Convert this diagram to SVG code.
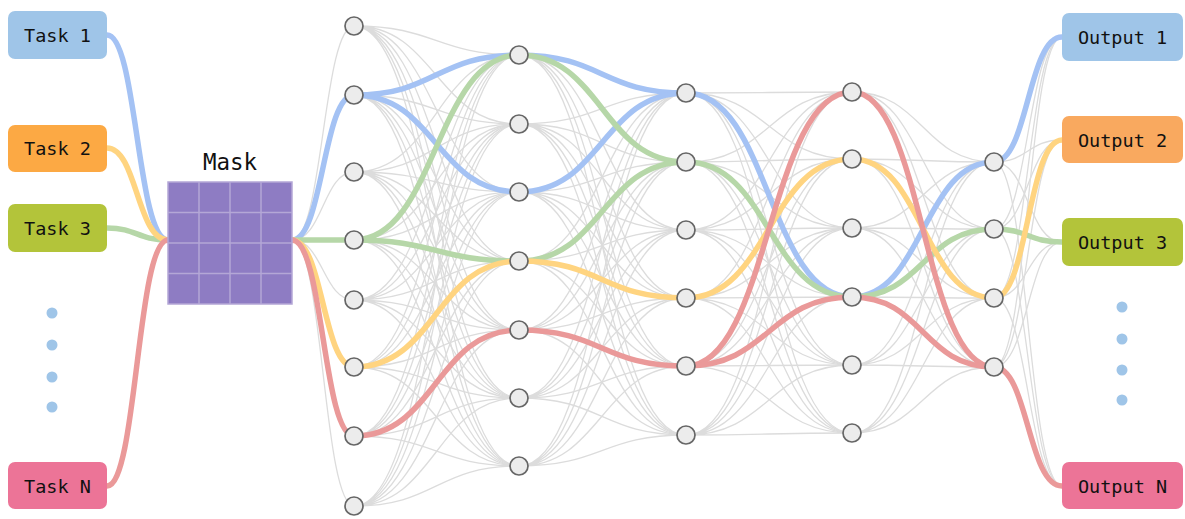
<svg xmlns="http://www.w3.org/2000/svg" width="1185" height="519" viewBox="0 0 1185 519">
<style>
.g{fill:none;stroke:#dcdcdc;stroke-width:1.3}
.c{fill:none;stroke-width:5.5;stroke-linecap:round}
.b{stroke:#a4c2f4}.o{stroke:#ffd480}.gr{stroke:#b6d7a8}.r{stroke:#ea9999}
.n{fill:#ececec;stroke:#666;stroke-width:1.7}
.lbl{font-family:"DejaVu Sans Mono","Liberation Mono",monospace;font-size:18.5px;fill:#111;text-anchor:middle}
.dot{fill:#9fc5e8}
</style>
<rect width="1185" height="519" fill="#fff"/>
<g id="connectors">
<path class="g" d="M292 240C323 240 323 26 354 26M292 240C323 240 323 95 354 95M292 240C323 240 323 172 354 172M292 240C323 240 323 240 354 240M292 240C323 240 323 300 354 300M292 240C323 240 323 367 354 367M292 240C323 240 323 436 354 436M292 240C323 240 323 506 354 506"/>
<path class="g" d="M354 26C436 26 436 55 519 55M354 26C436 26 436 124 519 124M354 26C436 26 436 192 519 192M354 26C436 26 436 261 519 261M354 26C436 26 436 330 519 330M354 26C436 26 436 398 519 398M354 26C436 26 436 466 519 466"/>
<path class="g" d="M354 95C436 95 436 55 519 55M354 95C436 95 436 124 519 124M354 95C436 95 436 192 519 192M354 95C436 95 436 261 519 261M354 95C436 95 436 330 519 330M354 95C436 95 436 398 519 398M354 95C436 95 436 466 519 466"/>
<path class="g" d="M354 172C436 172 436 55 519 55M354 172C436 172 436 124 519 124M354 172C436 172 436 192 519 192M354 172C436 172 436 261 519 261M354 172C436 172 436 330 519 330M354 172C436 172 436 398 519 398M354 172C436 172 436 466 519 466"/>
<path class="g" d="M354 240C436 240 436 55 519 55M354 240C436 240 436 124 519 124M354 240C436 240 436 192 519 192M354 240C436 240 436 261 519 261M354 240C436 240 436 330 519 330M354 240C436 240 436 398 519 398M354 240C436 240 436 466 519 466"/>
<path class="g" d="M354 300C436 300 436 55 519 55M354 300C436 300 436 124 519 124M354 300C436 300 436 192 519 192M354 300C436 300 436 261 519 261M354 300C436 300 436 330 519 330M354 300C436 300 436 398 519 398M354 300C436 300 436 466 519 466"/>
<path class="g" d="M354 367C436 367 436 55 519 55M354 367C436 367 436 124 519 124M354 367C436 367 436 192 519 192M354 367C436 367 436 261 519 261M354 367C436 367 436 330 519 330M354 367C436 367 436 398 519 398M354 367C436 367 436 466 519 466"/>
<path class="g" d="M354 436C436 436 436 55 519 55M354 436C436 436 436 124 519 124M354 436C436 436 436 192 519 192M354 436C436 436 436 261 519 261M354 436C436 436 436 330 519 330M354 436C436 436 436 398 519 398M354 436C436 436 436 466 519 466"/>
<path class="g" d="M354 506C436 506 436 55 519 55M354 506C436 506 436 124 519 124M354 506C436 506 436 192 519 192M354 506C436 506 436 261 519 261M354 506C436 506 436 330 519 330M354 506C436 506 436 398 519 398M354 506C436 506 436 466 519 466"/>
<path class="g" d="M519 55C602 55 602 93 686 93M519 55C602 55 602 162 686 162M519 55C602 55 602 230 686 230M519 55C602 55 602 298 686 298M519 55C602 55 602 366 686 366M519 55C602 55 602 435 686 435"/>
<path class="g" d="M519 124C602 124 602 93 686 93M519 124C602 124 602 162 686 162M519 124C602 124 602 230 686 230M519 124C602 124 602 298 686 298M519 124C602 124 602 366 686 366M519 124C602 124 602 435 686 435"/>
<path class="g" d="M519 192C602 192 602 93 686 93M519 192C602 192 602 162 686 162M519 192C602 192 602 230 686 230M519 192C602 192 602 298 686 298M519 192C602 192 602 366 686 366M519 192C602 192 602 435 686 435"/>
<path class="g" d="M519 261C602 261 602 93 686 93M519 261C602 261 602 162 686 162M519 261C602 261 602 230 686 230M519 261C602 261 602 298 686 298M519 261C602 261 602 366 686 366M519 261C602 261 602 435 686 435"/>
<path class="g" d="M519 330C602 330 602 93 686 93M519 330C602 330 602 162 686 162M519 330C602 330 602 230 686 230M519 330C602 330 602 298 686 298M519 330C602 330 602 366 686 366M519 330C602 330 602 435 686 435"/>
<path class="g" d="M519 398C602 398 602 93 686 93M519 398C602 398 602 162 686 162M519 398C602 398 602 230 686 230M519 398C602 398 602 298 686 298M519 398C602 398 602 366 686 366M519 398C602 398 602 435 686 435"/>
<path class="g" d="M519 466C602 466 602 93 686 93M519 466C602 466 602 162 686 162M519 466C602 466 602 230 686 230M519 466C602 466 602 298 686 298M519 466C602 466 602 366 686 366M519 466C602 466 602 435 686 435"/>
<path class="g" d="M686 93C769 93 769 92 852 92M686 93C769 93 769 159 852 159M686 93C769 93 769 228 852 228M686 93C769 93 769 297 852 297M686 93C769 93 769 365 852 365M686 93C769 93 769 433 852 433"/>
<path class="g" d="M686 162C769 162 769 92 852 92M686 162C769 162 769 159 852 159M686 162C769 162 769 228 852 228M686 162C769 162 769 297 852 297M686 162C769 162 769 365 852 365M686 162C769 162 769 433 852 433"/>
<path class="g" d="M686 230C769 230 769 92 852 92M686 230C769 230 769 159 852 159M686 230C769 230 769 228 852 228M686 230C769 230 769 297 852 297M686 230C769 230 769 365 852 365M686 230C769 230 769 433 852 433"/>
<path class="g" d="M686 298C769 298 769 92 852 92M686 298C769 298 769 159 852 159M686 298C769 298 769 228 852 228M686 298C769 298 769 297 852 297M686 298C769 298 769 365 852 365M686 298C769 298 769 433 852 433"/>
<path class="g" d="M686 366C769 366 769 92 852 92M686 366C769 366 769 159 852 159M686 366C769 366 769 228 852 228M686 366C769 366 769 297 852 297M686 366C769 366 769 365 852 365M686 366C769 366 769 433 852 433"/>
<path class="g" d="M686 435C769 435 769 92 852 92M686 435C769 435 769 159 852 159M686 435C769 435 769 228 852 228M686 435C769 435 769 297 852 297M686 435C769 435 769 365 852 365M686 435C769 435 769 433 852 433"/>
<path class="g" d="M852 92C923 92 923 162 994 162M852 92C923 92 923 229 994 229M852 92C923 92 923 298 994 298M852 92C923 92 923 367 994 367"/>
<path class="g" d="M852 159C923 159 923 162 994 162M852 159C923 159 923 229 994 229M852 159C923 159 923 298 994 298M852 159C923 159 923 367 994 367"/>
<path class="g" d="M852 228C923 228 923 162 994 162M852 228C923 228 923 229 994 229M852 228C923 228 923 298 994 298M852 228C923 228 923 367 994 367"/>
<path class="g" d="M852 297C923 297 923 162 994 162M852 297C923 297 923 229 994 229M852 297C923 297 923 298 994 298M852 297C923 297 923 367 994 367"/>
<path class="g" d="M852 365C923 365 923 162 994 162M852 365C923 365 923 229 994 229M852 365C923 365 923 298 994 298M852 365C923 365 923 367 994 367"/>
<path class="g" d="M852 433C923 433 923 162 994 162M852 433C923 433 923 229 994 229M852 433C923 433 923 298 994 298M852 433C923 433 923 367 994 367"/>
<path class="g" d="M994 162C1028 162 1028 37 1062 37M994 162C1028 162 1028 140 1062 140M994 162C1028 162 1028 242 1062 242M994 162C1028 162 1028 486 1062 486"/>
<path class="g" d="M994 229C1028 229 1028 37 1062 37M994 229C1028 229 1028 140 1062 140M994 229C1028 229 1028 242 1062 242M994 229C1028 229 1028 486 1062 486"/>
<path class="g" d="M994 298C1028 298 1028 37 1062 37M994 298C1028 298 1028 140 1062 140M994 298C1028 298 1028 242 1062 242M994 298C1028 298 1028 486 1062 486"/>
<path class="g" d="M994 367C1028 367 1028 37 1062 37M994 367C1028 367 1028 140 1062 140M994 367C1028 367 1028 242 1062 242M994 367C1028 367 1028 486 1062 486"/>
<!-- task 1 (blue) -->
<path class="c b" d="M107 35C137 35 137 240 168 240"/>
<path class="c b" d="M292 240C323 240 323 95 354 95"/>
<path class="c b" d="M354 95C436 95 436 55 519 55"/>
<path class="c b" d="M354 95C436 95 436 192 519 192"/>
<path class="c b" d="M519 55C602 55 602 93 686 93"/>
<path class="c b" d="M519 192C602 192 602 93 686 93"/>
<path class="c b" d="M686 93C769 93 769 297 852 297"/>
<path class="c b" d="M852 297C923 297 923 162 994 162"/>
<path class="c b" d="M994 162C1028 162 1028 37 1062 37"/>
<!-- task 3 (green) -->
<path class="c gr" d="M107 228C137 228 137 240 168 240"/>
<path class="c gr" d="M292 240C323 240 323 240 354 240"/>
<path class="c gr" d="M354 240C436 240 436 55 519 55"/>
<path class="c gr" d="M354 240C436 240 436 261 519 261"/>
<path class="c gr" d="M519 55C602 55 602 162 686 162"/>
<path class="c gr" d="M519 261C602 261 602 162 686 162"/>
<path class="c gr" d="M686 162C769 162 769 297 852 297"/>
<path class="c gr" d="M852 297C923 297 923 229 994 229"/>
<path class="c gr" d="M994 229C1028 229 1028 242 1062 242"/>
<!-- task 2 (orange) -->
<path class="c o" d="M107 148C137 148 137 240 168 240"/>
<path class="c o" d="M292 240C323 240 323 367 354 367"/>
<path class="c o" d="M354 367C436 367 436 261 519 261"/>
<path class="c o" d="M519 261C602 261 602 298 686 298"/>
<path class="c o" d="M686 298C769 298 769 159 852 159"/>
<path class="c o" d="M852 159C923 159 923 298 994 298"/>
<path class="c o" d="M994 298C1028 298 1028 140 1062 140"/>
<!-- task N (red) -->
<path class="c r" d="M107 486C137 486 137 240 168 240"/>
<path class="c r" d="M292 240C323 240 323 436 354 436"/>
<path class="c r" d="M354 436C436 436 436 330 519 330"/>
<path class="c r" d="M519 330C602 330 602 366 686 366"/>
<path class="c r" d="M686 366C769 366 769 92 852 92"/>
<path class="c r" d="M686 366C769 366 769 297 852 297"/>
<path class="c r" d="M852 92C923 92 923 367 994 367"/>
<path class="c r" d="M852 297C923 297 923 367 994 367"/>
<path class="c r" d="M994 367C1028 367 1028 486 1062 486"/>
</g>
<g id="task1"><rect x="8" y="11" width="99" height="48" rx="7" fill="#9fc5e8"/><text class="lbl" x="57.5" y="42">Task 1</text></g>
<g id="task2"><rect x="8" y="125" width="99" height="47" rx="7" fill="#fca944"/><text class="lbl" x="57.5" y="155">Task 2</text></g>
<g id="task3"><rect x="8" y="204" width="99" height="48" rx="7" fill="#b3c43a"/><text class="lbl" x="57.5" y="235">Task 3</text></g>
<g id="taskN"><rect x="8" y="462" width="99" height="47" rx="7" fill="#ec7497"/><text class="lbl" x="57.5" y="493">Task N</text></g>
<g id="task-dots"><circle class="dot" cx="52" cy="313" r="5.5"/><circle class="dot" cx="52" cy="345" r="5.5"/><circle class="dot" cx="52" cy="377" r="5.5"/><circle class="dot" cx="52" cy="407" r="5.5"/></g>
<g id="mask">
<text x="230" y="170" font-family="DejaVu Sans Mono, Liberation Mono, monospace" font-size="22.5" fill="#111" text-anchor="middle">Mask</text>
<rect x="168" y="182" width="124" height="122" fill="#8e7cc3" stroke="#b4a7d6" stroke-width="1.5"/>
<path d="M199 182V304M230 182V304M261 182V304M168 212.5H292M168 243H292M168 273.5H292" stroke="#b4a7d6" stroke-width="1.5"/>
</g>
<g id="l1-1"><circle class="n" cx="354" cy="26" r="9"/></g>
<g id="l1-2"><circle class="n" cx="354" cy="95" r="9"/></g>
<g id="l1-3"><circle class="n" cx="354" cy="172" r="9"/></g>
<g id="l1-4"><circle class="n" cx="354" cy="240" r="9"/></g>
<g id="l1-5"><circle class="n" cx="354" cy="300" r="9"/></g>
<g id="l1-6"><circle class="n" cx="354" cy="367" r="9"/></g>
<g id="l1-7"><circle class="n" cx="354" cy="436" r="9"/></g>
<g id="l1-8"><circle class="n" cx="354" cy="506" r="9"/></g>
<g id="l2-1"><circle class="n" cx="519" cy="55" r="9"/></g>
<g id="l2-2"><circle class="n" cx="519" cy="124" r="9"/></g>
<g id="l2-3"><circle class="n" cx="519" cy="192" r="9"/></g>
<g id="l2-4"><circle class="n" cx="519" cy="261" r="9"/></g>
<g id="l2-5"><circle class="n" cx="519" cy="330" r="9"/></g>
<g id="l2-6"><circle class="n" cx="519" cy="398" r="9"/></g>
<g id="l2-7"><circle class="n" cx="519" cy="466" r="9"/></g>
<g id="l3-1"><circle class="n" cx="686" cy="93" r="9"/></g>
<g id="l3-2"><circle class="n" cx="686" cy="162" r="9"/></g>
<g id="l3-3"><circle class="n" cx="686" cy="230" r="9"/></g>
<g id="l3-4"><circle class="n" cx="686" cy="298" r="9"/></g>
<g id="l3-5"><circle class="n" cx="686" cy="366" r="9"/></g>
<g id="l3-6"><circle class="n" cx="686" cy="435" r="9"/></g>
<g id="l4-1"><circle class="n" cx="852" cy="92" r="9"/></g>
<g id="l4-2"><circle class="n" cx="852" cy="159" r="9"/></g>
<g id="l4-3"><circle class="n" cx="852" cy="228" r="9"/></g>
<g id="l4-4"><circle class="n" cx="852" cy="297" r="9"/></g>
<g id="l4-5"><circle class="n" cx="852" cy="365" r="9"/></g>
<g id="l4-6"><circle class="n" cx="852" cy="433" r="9"/></g>
<g id="l5-1"><circle class="n" cx="994" cy="162" r="9"/></g>
<g id="l5-2"><circle class="n" cx="994" cy="229" r="9"/></g>
<g id="l5-3"><circle class="n" cx="994" cy="298" r="9"/></g>
<g id="l5-4"><circle class="n" cx="994" cy="367" r="9"/></g>
<g id="output1"><rect x="1062" y="13" width="121" height="48" rx="7" fill="#9fc5e8"/><text class="lbl" x="1122.5" y="44">Output 1</text></g>
<g id="output2"><rect x="1062" y="116" width="121" height="47" rx="7" fill="#f9a95f"/><text class="lbl" x="1122.5" y="146.5">Output 2</text></g>
<g id="output3"><rect x="1062" y="218" width="121" height="48" rx="7" fill="#b3c43a"/><text class="lbl" x="1122.5" y="249">Output 3</text></g>
<g id="outputN"><rect x="1062" y="462" width="121" height="47" rx="7" fill="#ec7497"/><text class="lbl" x="1122.5" y="492.5">Output N</text></g>
<g id="output-dots"><circle class="dot" cx="1122" cy="307" r="5.5"/><circle class="dot" cx="1122" cy="339" r="5.5"/><circle class="dot" cx="1122" cy="370" r="5.5"/><circle class="dot" cx="1122" cy="400" r="5.5"/></g>
</svg>
